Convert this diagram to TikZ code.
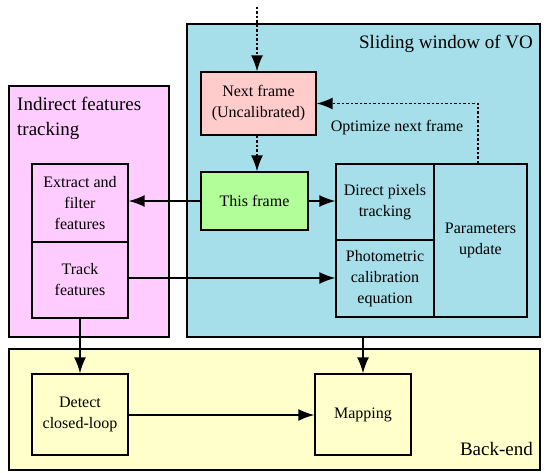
\documentclass[tikz,border=0pt]{standalone}
\usepackage{fontspec}
\setmainfont{Liberation Serif}
\usetikzlibrary{arrows.meta}
\definecolor{vobg}{RGB}{166,222,233}
\definecolor{pinkbg}{RGB}{255,204,255}
\definecolor{yellowbg}{RGB}{255,255,204}
\definecolor{nextbg}{RGB}{255,204,204}
\definecolor{thisbg}{RGB}{178,255,153}
\tikzset{
  region/.style={draw=black, line width=1.4pt, inner sep=0pt},
  blk/.style={draw=black, line width=1.4pt, inner sep=0pt, align=center,
    font=\fontsize{16}{21}\selectfont},
  conn/.style={line width=1.5pt, -{Latex[length=16pt,width=12pt]}},
  dconn/.style={conn, dash pattern=on 2.5pt off 2pt},
  ttl/.style={font=\fontsize{19}{25}\selectfont, inner sep=0pt},
  lbl/.style={font=\fontsize{16}{21}\selectfont, inner sep=0pt}
}
\begin{document}
\begin{tikzpicture}[x=1pt,y=-1pt]
\useasboundingbox (0,0) rectangle (550,473);
% regions
\node[region, fill=vobg, minimum width=353pt, minimum height=313pt] (vo) at (363.5,180.5) {};
\node[region, fill=pinkbg, minimum width=160pt, minimum height=251pt] (ift) at (89,211.5) {};
\node[region, fill=yellowbg, minimum width=531pt, minimum height=121pt] (be) at (274.5,409.5) {};
\node[ttl, anchor=east] (votitle) at (533,44) {Sliding window of VO};
\node[ttl, anchor=north west, align=left] (ifttitle) at (17,97) {Indirect features\\tracking};
\node[ttl, anchor=east] (betitle) at (533,449) {Back-end};
% blocks
\node[blk, fill=nextbg, minimum width=115pt, minimum height=63pt] (next) at (258.5,103.5) {Next frame\\(Uncalibrated)};
\node[blk, fill=thisbg, minimum width=107pt, minimum height=58pt] (this) at (254.5,201) {This frame};
\node[blk, minimum width=98pt, minimum height=76pt] (dpt) at (385,202) {Direct pixels\\tracking};
\node[blk, minimum width=98pt, minimum height=77pt] (pce) at (385,278.5) {Photometric\\calibration\\equation};
\node[blk, minimum width=93pt, minimum height=153pt] (pu) at (480.5,240.5) {Parameters\\update};
\node[blk, minimum width=96pt, minimum height=78pt] (ext) at (80,203) {Extract and\\filter\\features};
\node[blk, minimum width=96pt, minimum height=76pt] (trk) at (80,280) {Track\\features};
\node[blk, minimum width=96pt, minimum height=81pt] (det) at (80,414.5) {Detect\\closed-loop};
\node[blk, minimum width=96pt, minimum height=81pt] (map) at (363,414.5) {Mapping};
\node[lbl] (opt) at (397,128) {Optimize next frame};
% connectors
\coordinate (src) at (257,7);
\coordinate (trkrow) at (0,278);
\coordinate (detrow) at (0,415);
\coordinate (fbcol) at (478,0);
\draw[dconn] (src) -- (src |- next.north);
\draw[dconn] (next.south -| src) -- (this.north -| src);
\draw[dconn] (pu.north -| fbcol) |- (next.east);
\draw[conn] (this.west) -- (ext.east |- this.west);
\draw[conn] (this.east) -- (dpt.west |- this.east);
\draw[conn] (trk.east |- trkrow) -- (pce.west |- trkrow);
\draw[conn] (trk.south) -- (det.north);
\draw[conn] (vo.south -| map.north) -- (map.north);
\draw[conn] (det.east |- detrow) -- (map.west |- detrow);
\end{tikzpicture}
\end{document}
